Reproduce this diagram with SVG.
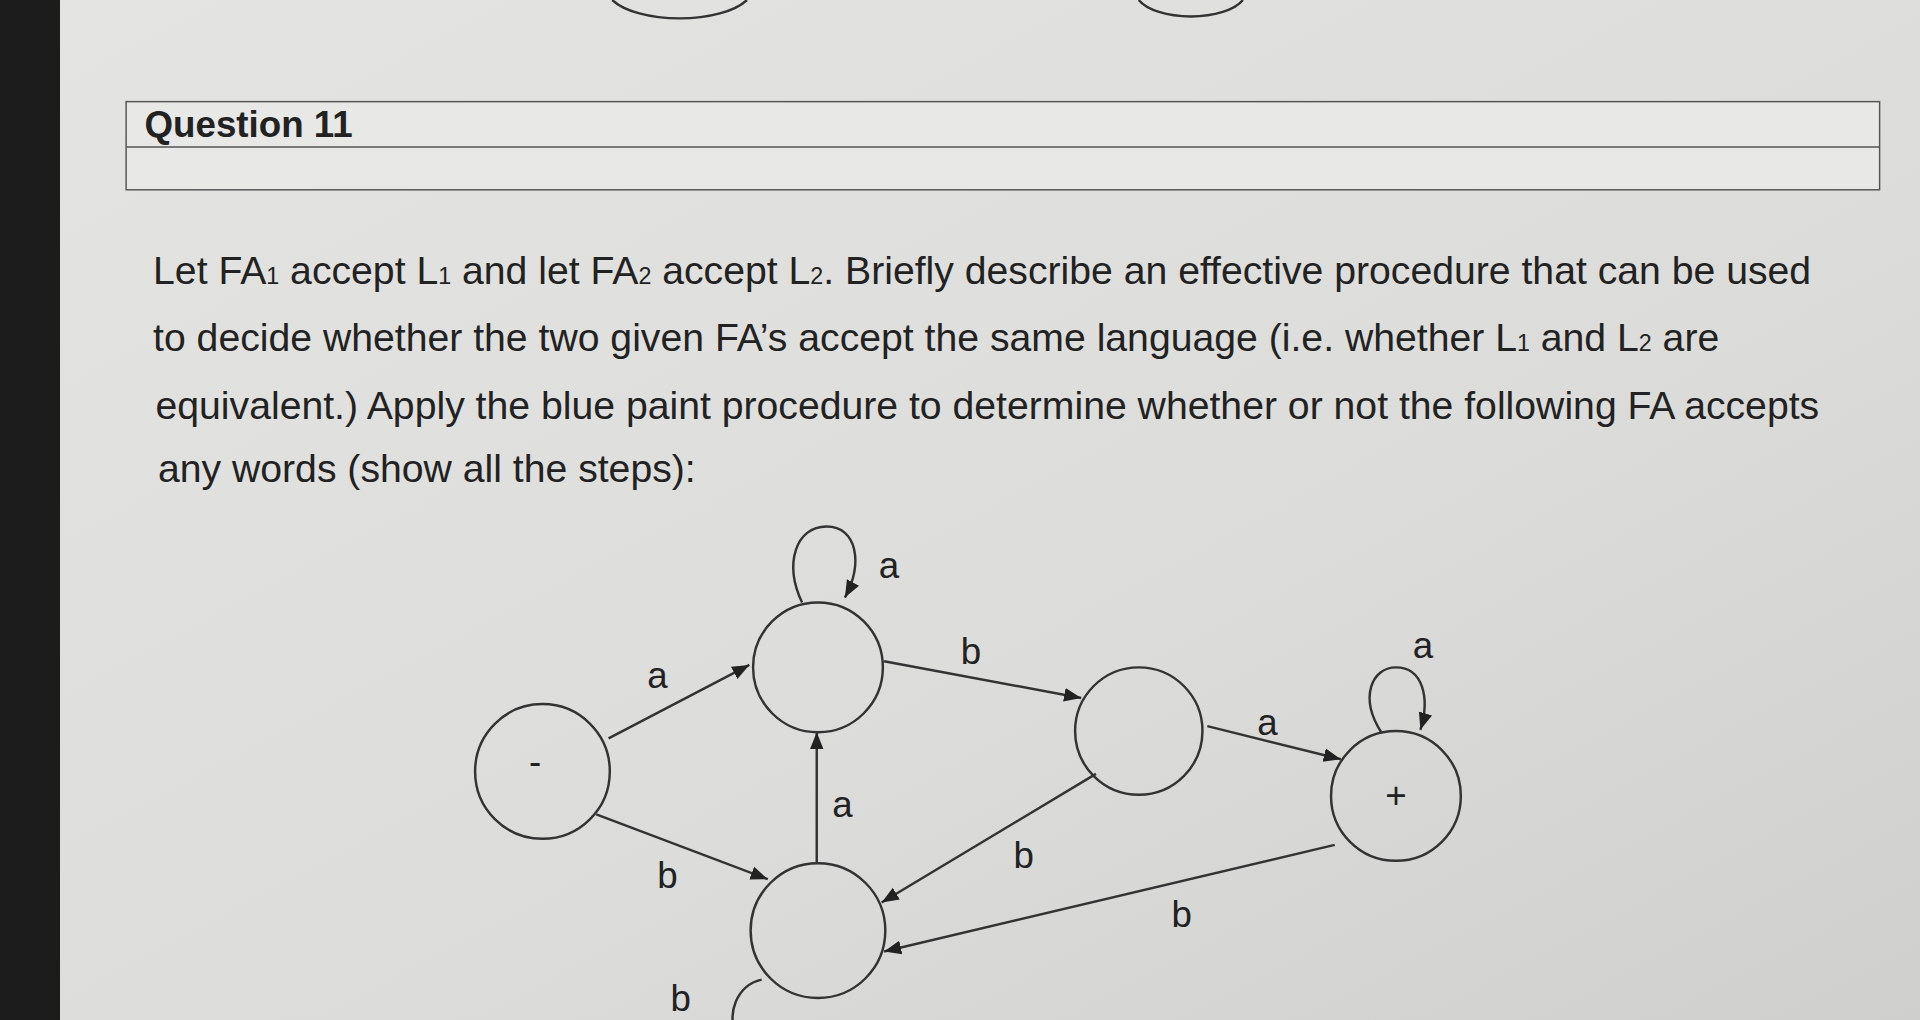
<svg xmlns="http://www.w3.org/2000/svg" width="1920" height="1020" viewBox="0 0 1920 1020">
<defs>
<linearGradient id="bg" x1="0" y1="0" x2="1" y2="1"><stop offset="0" stop-color="#e4e4e2"/><stop offset="0.6" stop-color="#dcdcda"/><stop offset="1" stop-color="#cfcfcd"/></linearGradient>
<marker id="ah" viewBox="0 0 10 10" refX="10" refY="5" markerWidth="7" markerHeight="7" orient="auto-start-reverse"><path d="M0,1 L10,5 L0,9 z" fill="#222"/></marker>
<style>
.t{font-family:"Liberation Sans",Arial,sans-serif;fill:#222}
.st{fill:none;stroke:#333;stroke-width:2}
.e{fill:none;stroke:#333;stroke-width:2;marker-end:url(#ah)}
.l{font-family:"Liberation Sans",Arial,sans-serif;font-size:30px;fill:#222;text-anchor:middle}
</style>
</defs>
<rect width="1920" height="1020" fill="url(#bg)"/>
<rect x="0" y="0" width="60" height="1020" fill="#1c1c1c"/>
<g transform="scale(1.2245)">
<path d="M500,0 A60,25 0 0 0 610,0" class="st"/>
<path d="M930,0 A45,20 0 0 0 1015,0" class="st"/>
<g id="header">
<rect x="103" y="83" width="1432" height="72" fill="#e8e8e6" stroke="#555" stroke-width="1.2"/>
<line x1="103" y1="120" x2="1535" y2="120" stroke="#555" stroke-width="1.2"/>
<text x="118" y="112" class="t" font-size="30" font-weight="bold">Question 11</text>
</g>
<g id="text" class="t" font-size="32">
<text x="125" y="232">Let FA<tspan font-size="19">1</tspan> accept L<tspan font-size="19">1</tspan> and let FA<tspan font-size="19">2</tspan> accept L<tspan font-size="19">2</tspan>. Briefly describe an effective procedure that can be used</text>
<text x="125" y="287">to decide whether the two given FA’s accept the same language (i.e. whether L<tspan font-size="19">1</tspan> and L<tspan font-size="19">2</tspan> are</text>
<text x="127" y="342">equivalent.) Apply the blue paint procedure to determine whether or not the following FA accepts</text>
<text x="129" y="394">any words (show all the steps):</text>
</g>
<g id="connectors">
<line x1="497" y1="603" x2="612" y2="543" class="e"/>
<line x1="487" y1="665" x2="627" y2="718" class="e"/>
<line x1="667" y1="705" x2="667" y2="598" class="e"/>
<line x1="722" y1="540" x2="883" y2="570" class="e"/>
<line x1="986" y1="593" x2="1095" y2="620" class="e"/>
<line x1="895" y1="632" x2="720" y2="737" class="e"/>
<line x1="1090" y1="690" x2="722" y2="777" class="e"/>
<path d="M655,492 C640,460 650,430 675,430 C700,430 705,460 690,488" class="e"/>
<path d="M1128,598 C1110,570 1120,545 1140,545 C1162,545 1168,570 1160,596" class="e"/>
<path d="M622,800 C600,805 595,830 600,840" class="st"/>
<text x="537" y="562" class="l">a</text>
<text x="545" y="725" class="l">b</text>
<text x="688" y="667" class="l">a</text>
<text x="793" y="542" class="l">b</text>
<text x="1035" y="600" class="l">a</text>
<text x="836" y="709" class="l">b</text>
<text x="965" y="757" class="l">b</text>
<text x="726" y="472" class="l">a</text>
<text x="1162" y="537" class="l">a</text>
<text x="556" y="826" class="l">b</text>
</g>
<g id="n-start"><circle cx="443" cy="630" r="55" class="st"/><text x="437" y="632" class="l">-</text></g>
<g id="n-top"><circle cx="668" cy="545" r="53" class="st"/></g>
<g id="n-mid"><circle cx="930" cy="597" r="52" class="st"/></g>
<g id="n-plus"><circle cx="1140" cy="650" r="53" class="st"/><text x="1140" y="660" class="l">+</text></g>
<g id="n-bottom"><circle cx="668" cy="760" r="55" class="st"/></g>
</g>
</svg>
